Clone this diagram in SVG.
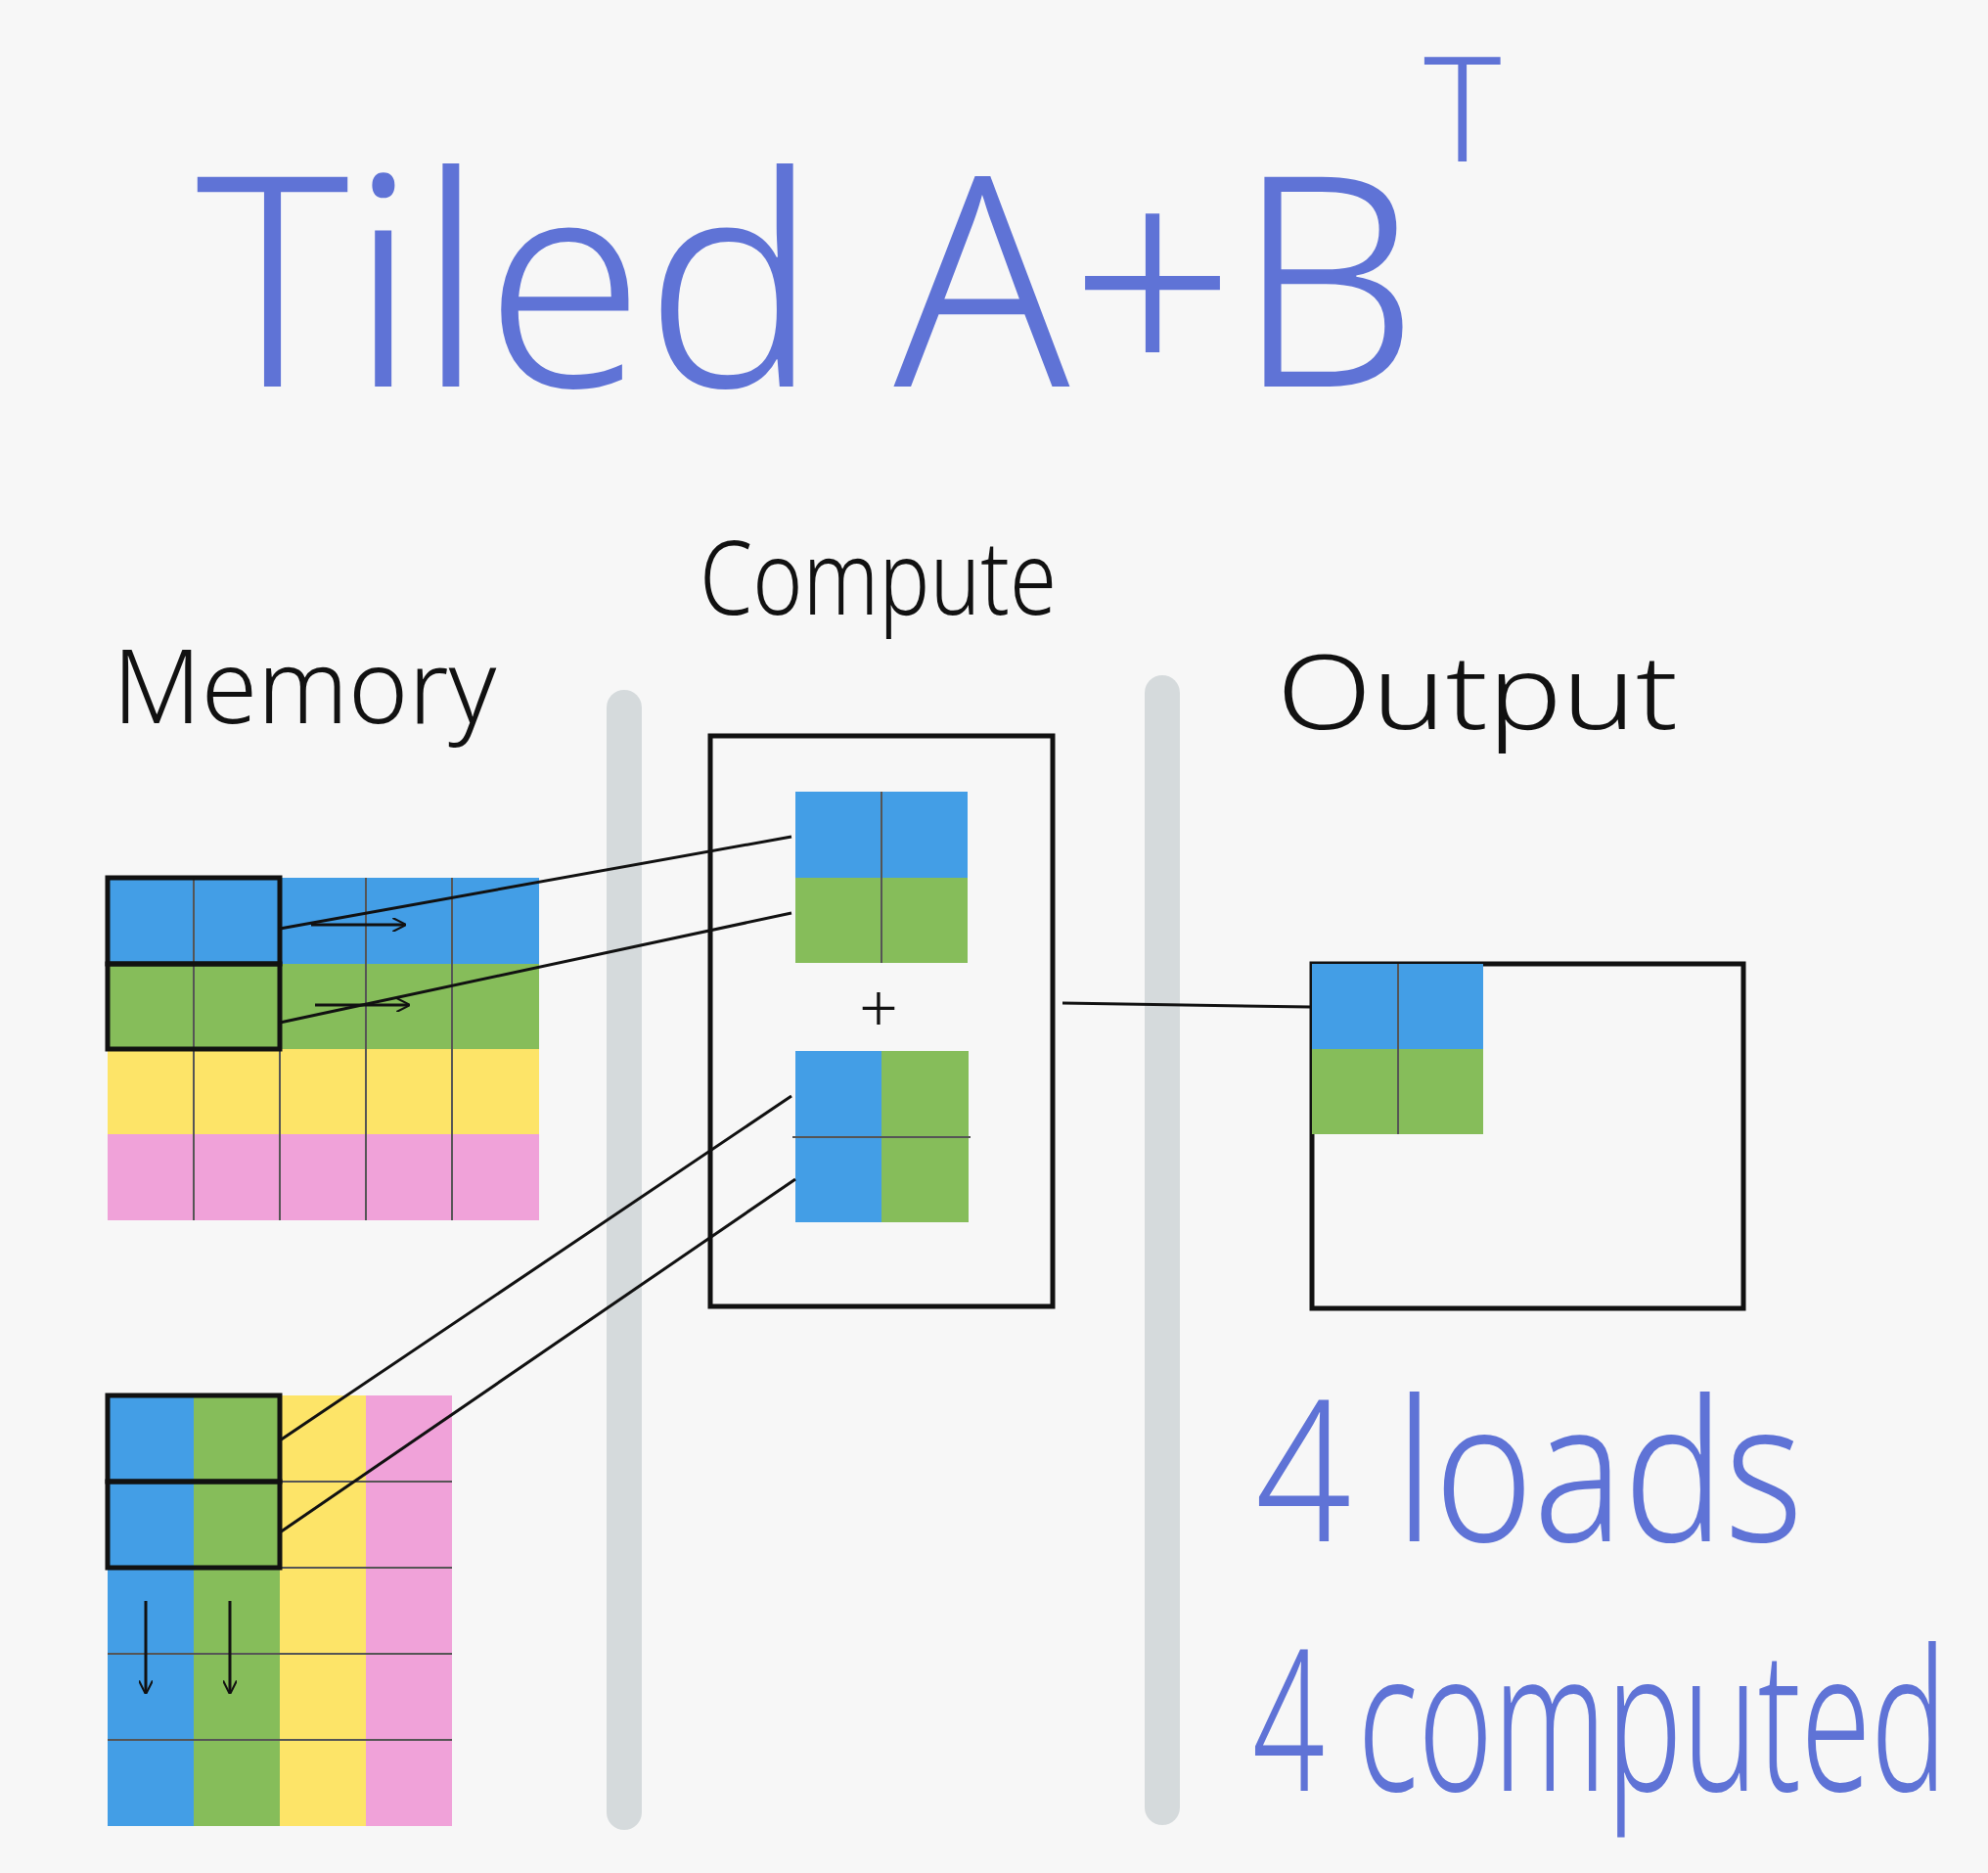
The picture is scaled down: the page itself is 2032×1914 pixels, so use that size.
<svg xmlns="http://www.w3.org/2000/svg" width="2032" height="1914" viewBox="0 0 2032 1914">
<defs>
<style>
.b{fill:#439ee6}.g{fill:#86bd5a}.y{fill:#fde468}.p{fill:#f0a2d9}
.grid{stroke:#555;stroke-width:2;fill:none}
.box{stroke:#111;stroke-width:5;fill:none}
.ln{stroke:#111;stroke-width:3;fill:none}
.blue{font-family:"Noto Sans",sans-serif;fill:#5f73d6;font-weight:300}
.blk{font-family:"Noto Sans",sans-serif;fill:#111;font-weight:300}
</style>
<marker id="ah" viewBox="0 0 10 10" refX="9" refY="5" markerWidth="14" markerHeight="14" orient="auto" markerUnits="userSpaceOnUse"><path d="M0,0 L10,5 L0,10" fill="none" stroke="#111" stroke-width="1.5"/></marker>
</defs>
<rect width="2032" height="1914" fill="#f7f7f7"/>
<text class="blue" x="200" y="395" font-size="300" textLength="1250" lengthAdjust="spacingAndGlyphs">Tiled A+B</text>
<text class="blue" x="1455" y="165" font-size="150">T</text>
<text class="blk" x="115" y="739" font-size="104">Memory</text>
<text class="blk" x="715" y="628" font-size="104" textLength="365" lengthAdjust="spacingAndGlyphs">Compute</text>
<text class="blk" x="1305" y="745" font-size="104" textLength="410" lengthAdjust="spacingAndGlyphs">Output</text>
<rect x="620" y="705" width="36" height="1165" rx="18" fill="#d5dadc"/>
<rect x="1170" y="690" width="36" height="1175" rx="18" fill="#d5dadc"/>
<g id="memA">
<rect class="b" x="110" y="897" width="441" height="88"/>
<rect class="g" x="110" y="985" width="441" height="87"/>
<rect class="y" x="110" y="1072" width="441" height="87"/>
<rect class="p" x="110" y="1159" width="441" height="88"/>
<path class="grid" d="M198,897V1247M286,897V1247M374,897V1247M462,897V1247"/>
<rect class="box" x="110" y="897" width="176" height="88"/>
<rect class="box" x="110" y="985" width="176" height="87"/>
<path class="ln" d="M318,945H414" marker-end="url(#ah)"/>
<path class="ln" d="M322,1027H418" marker-end="url(#ah)"/>
</g>
<g id="memB">
<rect class="b" x="110" y="1426" width="88" height="440"/>
<rect class="g" x="198" y="1426" width="88" height="440"/>
<rect class="y" x="286" y="1426" width="88" height="440"/>
<rect class="p" x="374" y="1426" width="88" height="440"/>
<path class="grid" d="M110,1514H462M110,1602H462M110,1690H462M110,1778H462"/>
<rect class="box" x="110" y="1426" width="176" height="88"/>
<rect class="box" x="110" y="1514" width="176" height="88"/>
<path class="ln" d="M149,1636V1730" marker-end="url(#ah)"/>
<path class="ln" d="M235,1636V1730" marker-end="url(#ah)"/>
</g>
<g id="compute">
<rect class="box" x="726" y="752" width="350" height="583"/>
<rect class="b" x="813" y="809" width="176" height="88"/>
<rect class="g" x="813" y="897" width="176" height="87"/>
<path class="grid" d="M901,809V984"/>
<text class="blk" x="898" y="1055" font-size="70" text-anchor="middle">+</text>
<rect class="b" x="813" y="1074" width="88" height="175"/>
<rect class="g" x="901" y="1074" width="89" height="175"/>
<path class="grid" d="M810,1162H992"/>
</g>
<g id="output">
<rect class="box" x="1341" y="985" width="441" height="352"/>
<rect class="b" x="1341" y="985" width="175" height="87"/>
<rect class="g" x="1341" y="1072" width="175" height="87"/>
<path class="grid" d="M1429,985V1159"/>
</g>
<g id="connectors">
<path class="ln" d="M286,949L809,855M286,1045L809,933M286,1472L809,1120M286,1566L813,1205"/>
<path class="ln" stroke-width="4" d="M1086,1025L1339,1029"/>
</g>
<text class="blue" x="1283" y="1575" font-size="200" textLength="560" lengthAdjust="spacingAndGlyphs">4 loads</text>
<text class="blue" x="1280" y="1830" font-size="200" textLength="710" lengthAdjust="spacingAndGlyphs">4 computed</text>
</svg>
